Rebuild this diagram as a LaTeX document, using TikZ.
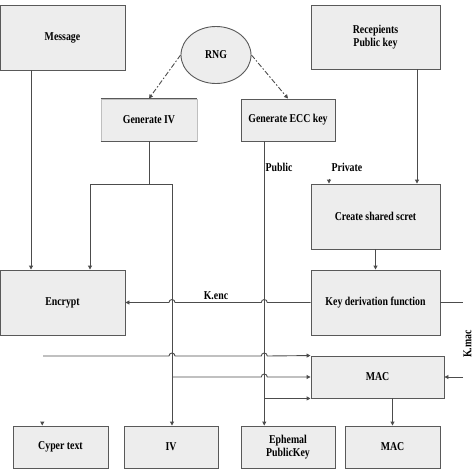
\documentclass[tikz,border=0pt]{standalone}
\usepackage{fontspec}
\newfontfamily\lab{Liberation Serif}[FakeStretch=0.82]
\usetikzlibrary{arrows.meta,calc,shapes.geometric}
\begin{document}
\begin{tikzpicture}[x=1pt,y=-1pt,
  box/.style={draw=black!65, fill=black!7, line width=0.9pt, inner sep=1pt, font=\lab\bfseries\fontsize{12}{13}\selectfont, align=center},
  ln/.style={draw=black!70, line width=0.9pt},
  arr/.style={ln, -{Triangle[length=4pt,width=4pt]}},
  dsh/.style={arr, dash pattern=on 5pt off 2pt on 1.5pt off 2pt},
  lbl/.style={font=\lab\bfseries\fontsize{12}{13}\selectfont, inner sep=0pt}]
\useasboundingbox (0,0) rectangle (474,474);
% nodes
\node[box, minimum width=125pt, minimum height=65pt] (msg) at (62.5,37.5) {Message};
\node[box, ellipse, minimum width=70pt, minimum height=57pt] (rng) at (216,55) {RNG};
\node[box, draw=black!25, minimum width=96pt, minimum height=42pt] (genIV) at (149,120) {Generate IV};
\draw[ln, draw=black!65] (genIV.north west) -- (genIV.north east) (genIV.south west) -- (genIV.south east);
\node[box, minimum width=94pt, minimum height=42pt] (ecc) at (288,120) {Generate ECC key};
\node[box, minimum width=129pt, minimum height=64pt] (recip) at (375.5,37) {Recepients\\Public key};
\node[box, minimum width=129pt, minimum height=65pt] (csc) at (375.5,216.5) {Create shared scret};
\node[box, minimum width=125pt, minimum height=65pt] (enc) at (62.5,302.5) {Encrypt};
\node[box, minimum width=129pt, minimum height=65pt] (kdf) at (375.5,302.5) {Key derivation function};
\node[box, minimum width=133pt, minimum height=42pt] (mac) at (377.5,377) {MAC};
\node[box, minimum width=95pt, minimum height=42pt] (cyp) at (60.5,447) {Cyper text};
\node[box, minimum width=94pt, minimum height=42pt] (iv) at (171,447) {IV};
\node[box, minimum width=94pt, minimum height=42pt] (eph) at (288,447) {Ephemal\\PublicKey};
\node[box, minimum width=95pt, minimum height=42pt] (macout) at (392.5,447) {MAC};
% labels
\node[lbl] (publbl) at (279,167) {Public};
\node[lbl] (privlbl) at (347,167) {Private};
\node[lbl] (kenc) at (216,296) {K.enc};
\node[lbl, rotate=90] (kmac) at (467.5,344) {K.mac};
% helper coordinates
\coordinate (ivR) at (172,184);
\coordinate (ivL) at (90,184);
\coordinate (pubT) at ($(ecc.south west)!.25!(ecc.south east)$);
\coordinate (cyL) at (43,356);
\coordinate (kmx) at (463,0);
\coordinate (rx) at (417,0);
\coordinate (px) at (329,0);
% connectors
\draw[dsh] (rng.west) -- (genIV.north);
\draw[dsh] (rng.east) -- (ecc.north);
\draw[arr] ($(msg.south west)!.25!(msg.south east)$) -- ($(enc.north west)!.25!(enc.north east)$);
\draw[ln] (genIV.south) -- (genIV.south |- ivR);
\draw[arr] (ivR) -- (ivL) -- (ivL |- enc.north);
\draw[arr] (ivR) -- (ivR |- iv.north);
\draw[arr] (pubT) -- (pubT |- eph.north);
\draw[arr] (pubT |- mac.south west) -- (mac.south west);
\draw[arr] (recip.south -| rx) -- (csc.north -| rx);
\draw[arr] ($(csc.north -| px)+(0,-5)$) -- (csc.north -| px);
\draw[arr] (csc.south) -- (kdf.north);
\draw[arr] (kdf.west) -- ($(kdf.west -| pubT)+(3,0)$) arc[start angle=0,end angle=-180,radius=3]
  -- ($(kdf.west -| ivR)+(3,0)$) arc[start angle=0,end angle=-180,radius=3] -- (enc.east);
\draw[arr] (cyL) -- ($(cyL -| ivR)-(3,0)$) arc[start angle=180,end angle=360,radius=3]
  -- ($(cyL -| pubT)-(3,0)$) arc[start angle=180,end angle=360,radius=3] -- (mac.north west);
\draw[arr] (ivR |- mac.west) -- ($(mac.west -| pubT)-(3,0)$) arc[start angle=180,end angle=360,radius=3] -- (mac.west);
\draw[arr] ($(cyp.north west)!.31!(cyp.north east)+(0,-4)$) -- ($(cyp.north west)!.31!(cyp.north east)$);
\draw[ln] (kdf.east) -- (kdf.east -| kmx);
\draw[arr] (mac.east -| kmx) -- (mac.east);
\draw[arr] (mac.south -| macout.north) -- (macout.north);
\end{tikzpicture}
\end{document}
